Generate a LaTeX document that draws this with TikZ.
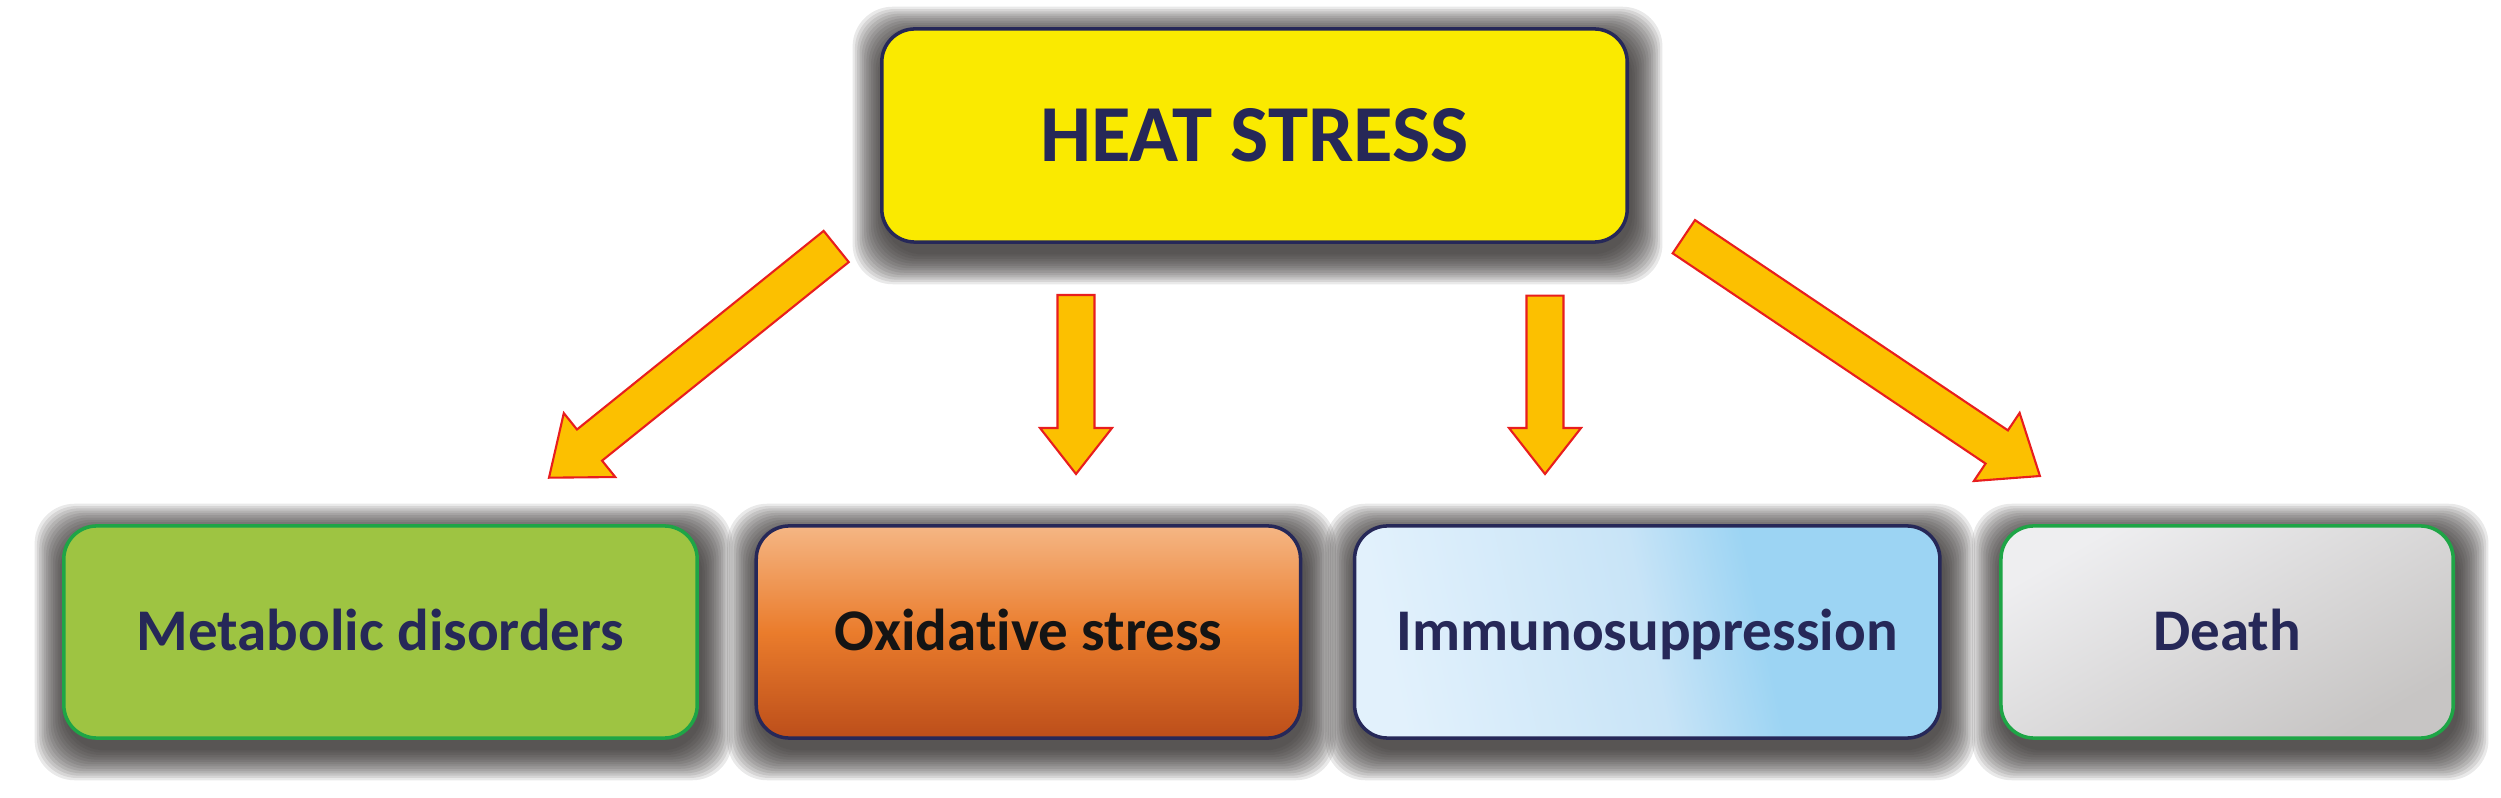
\documentclass[tikz,border=0pt]{standalone}
\usepackage{fontspec}
\setmainfont{Carlito}[Ligatures=NoCommon]
\usetikzlibrary{positioning,calc,backgrounds}

\definecolor{navy}{RGB}{38,40,88}
\definecolor{heatyellow}{RGB}{250,234,0}
\definecolor{metagreen}{RGB}{158,196,66}
\definecolor{edgegreen}{RGB}{30,165,70}
\definecolor{oxitop}{RGB}{245,182,132}
\definecolor{oximid}{RGB}{234,124,44}
\definecolor{oxibot}{RGB}{188,78,26}
\definecolor{immulight}{RGB}{226,241,252}
\definecolor{immumid}{RGB}{200,228,247}
\definecolor{immublue}{RGB}{156,212,243}
\definecolor{deathlight}{RGB}{238,238,240}
\definecolor{deathdark}{RGB}{199,197,196}
\definecolor{arrowfill}{RGB}{252,192,0}
\definecolor{arrowedge}{RGB}{232,30,30}
\definecolor{shadowgray}{RGB}{40,36,35}

\pgfdeclarehorizontalshading{immushade}{100bp}{color(0bp)=(immulight); color(25bp)=(immulight); color(50bp)=(immumid); color(61bp)=(immublue); color(100bp)=(immublue)}

\tikzset{
  box/.style={rounded corners=0.33cm, draw, line width=1pt, minimum height=2.12cm,
    font=\bfseries\fontsize{16.8}{20}\selectfont, text=navy,
    text height=10.8pt, text depth=0pt, inner sep=0pt, outer sep=0pt},
  fatarrow/.style={fill=arrowfill, draw=arrowedge, line width=0.6pt, line join=miter},
}

% block arrow: tail, tip, half shaft, half head, head length
\newcommand{\fatarrow}[5]{%
  \coordinate (hb) at ($(#2)!#5!(#1)$);
  \draw[fatarrow] ($(#1)!#3!90:(#2)$) -- ($(hb)!#3!90:(#2)$) -- ($(hb)!#4!90:(#2)$)
    -- (#2) -- ($(hb)!#4!-90:(#2)$) -- ($(hb)!#3!-90:(#2)$) -- ($(#1)!#3!-90:(#2)$) -- cycle;
}

\begin{document}
\begin{tikzpicture}[x=0.01cm,y=0.01cm]
\useasboundingbox (0,0) rectangle (2501,797);

\node[box, fill=heatyellow, draw=navy, minimum width=7.45cm, minimum height=2.13cm,
  font=\bfseries\fontsize{23}{27}\selectfont, text height=14.8pt] (heat) at (1254.5,661.5) {HEAT STRESS};
\node[box, fill=metagreen, draw=edgegreen, minimum width=6.33cm] (meta) at (380.5,165) {Metabolic disorders};
\node[box, top color=oxitop, bottom color=oxibot, middle color=oximid, draw=navy,
  minimum width=5.44cm, text=black!92, right=0.59cm of meta] (oxi) {Oxidative stress};
\node[box, shading=immushade, shading angle=12, draw=navy, minimum width=5.85cm,
  right=0.54cm of oxi] (immu) {Immunosuppression};
\node[box, top color=deathlight, bottom color=deathdark, shading angle=30, draw=edgegreen,
  minimum width=4.52cm, right=0.61cm of immu] (death) {Death};

% shadows
\begin{scope}[on background layer]
\foreach \n in {heat,meta,oxi,immu,death}
  \foreach \i in {1,...,14}
    \fill[shadowgray, opacity=0.1, rounded corners=0.4cm]
      ($(\n.south west)+(3-\i*2.3,-10-\i*2.3)$) rectangle ($(\n.north east)+(3+\i*2.3,-10+\i*2.3)$);
\end{scope}

\coordinate (metatail) at (836.2,550.5);  \coordinate (metatip) at (549,319.3);
\coordinate (oxitail) at (1076,502);      \coordinate (oxitip) at (1076,323);
\coordinate (immutail) at (1545,501.3);   \coordinate (immutip) at (1545,323);
\coordinate (deathtail) at (1683.8,560.3); \coordinate (deathtip) at (2039.9,321);

\fatarrow{metatail}{metatip}{0.2cm}{0.41cm}{0.52cm}
\fatarrow{oxitail}{oxitip}{0.185cm}{0.36cm}{0.46cm}
\fatarrow{immutail}{immutip}{0.185cm}{0.36cm}{0.46cm}
\fatarrow{deathtail}{deathtip}{0.2cm}{0.41cm}{0.52cm}
\end{tikzpicture}
\end{document}
